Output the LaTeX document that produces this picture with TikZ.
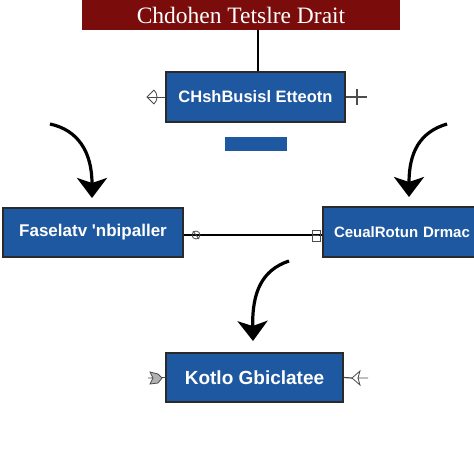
\documentclass[tikz,border=0pt]{standalone}
\usepackage{fontspec}
\setmainfont{Liberation Serif}
\newfontfamily\boxfont{Liberation Sans}
\usetikzlibrary{arrows.meta,calc}
\definecolor{barred}{HTML}{7A0C0C}
\definecolor{boxblue}{HTML}{1E58A0}
\definecolor{boxedge}{HTML}{2A2A2A}
\tikzset{
  bluebox/.style={draw=boxedge, line width=1.2pt, fill=boxblue, text=white,
    font=\boxfont\bfseries, inner sep=0pt},
  curvearrow/.style={line width=3.2pt, -{Stealth[width=30pt,length=20pt,inset=5pt]}},
  conn/.style={line width=1.3pt, draw=black},
  glyph/.style={line width=0.8pt, draw=black!70},
}
\begin{document}
\begin{tikzpicture}[x=1pt,y=-1pt]
\useasboundingbox (0,0) rectangle (474,474);
\fill[white] (0,0) rectangle (474,474);
% title bar
\node[fill=barred, text=white, minimum width=318pt, minimum height=30pt, inner sep=0pt,
  font=\fontsize{23.5}{25}\selectfont] (title) at (241,15) {Chdohen Tetslre Drait};
% boxes
\node[bluebox, minimum width=179pt, minimum height=50pt, font=\boxfont\bfseries\fontsize{16.5}{19}\selectfont] (top) at (255.5,97) {CHshBusisl Etteotn};
\node[draw=none, fill=boxblue, minimum width=62pt, minimum height=14pt, inner sep=0pt] (bar) at (256,144) {};
\node[bluebox, minimum width=180pt, minimum height=49pt, font=\boxfont\bfseries\fontsize{17}{19}\selectfont] (left) at (93,232.5) {Faselatv 'nbipaller};
\node[bluebox, minimum width=162pt, minimum height=50pt, align=left, text width=150pt, font=\boxfont\bfseries\fontsize{15}{18}\selectfont] (right) at (404,232) {\hspace*{5pt}CeualRotun Drmac};
\node[bluebox, minimum width=177pt, minimum height=49pt, font=\boxfont\bfseries\fontsize{19}{21}\selectfont] (bottom) at (254.5,377.5) {Kotlo Gbiclatee};
% connectors
\coordinate (t1) at (258,30);
\draw[conn] (t1) -- (t1 |- top.north);
\draw[conn] (left.east |- 0,235) -- (right.west |- 0,235);
% small glyphs
\coordinate (gl1) at (147,97);
\draw[glyph] (gl1) -- (top.west);
\draw[glyph] (154,90) -- (gl1) -- (154,104);
\draw[glyph] (154,90) .. controls (158,94) and (158,100) .. (154,104);
\coordinate (gr1) at (367,97);
\draw[glyph, line width=1.2pt] (top.east) -- (gr1);
\draw[glyph, line width=2pt] (357,89) -- (357,105);
\draw[glyph] (196,235) circle (4pt);
\draw[glyph] (193,231) -- (199,239);
\draw[glyph] (312,230) rectangle (320,241);
\draw[glyph] (313,235) -- (319,235);
\coordinate (gb1) at (148,378);
\draw[glyph] (gb1) -- (bottom.west);
\draw[glyph, fill=black!30] (150,372) -- (158,374) -- (162,378) -- (158,383) -- (150,384) -- (153,378) -- cycle;
\coordinate (gb2) at (368,378);
\draw[glyph, line width=1.2pt] (bottom.east) -- (352,378);
\draw[glyph, fill=white] (352,378) -- (360,371) -- (358,378) -- (368,378) -- (358,378) -- (360,385) -- cycle;
% curved arrows
\coordinate (a1s) at (50,124);
\coordinate (a1e) at (92,198);
\draw[curvearrow] (a1s) .. controls (78,130) and (92,152) .. (a1e);
\coordinate (a2s) at (447,124);
\coordinate (a2e) at (409,197);
\draw[curvearrow] (a2s) .. controls (420,132) and (409,152) .. (a2e);
\coordinate (a3s) at (289,261);
\coordinate (a3e) at (253,341);
\draw[curvearrow] (a3s) .. controls (262,270) and (252,292) .. (a3e);
\end{tikzpicture}
\end{document}
